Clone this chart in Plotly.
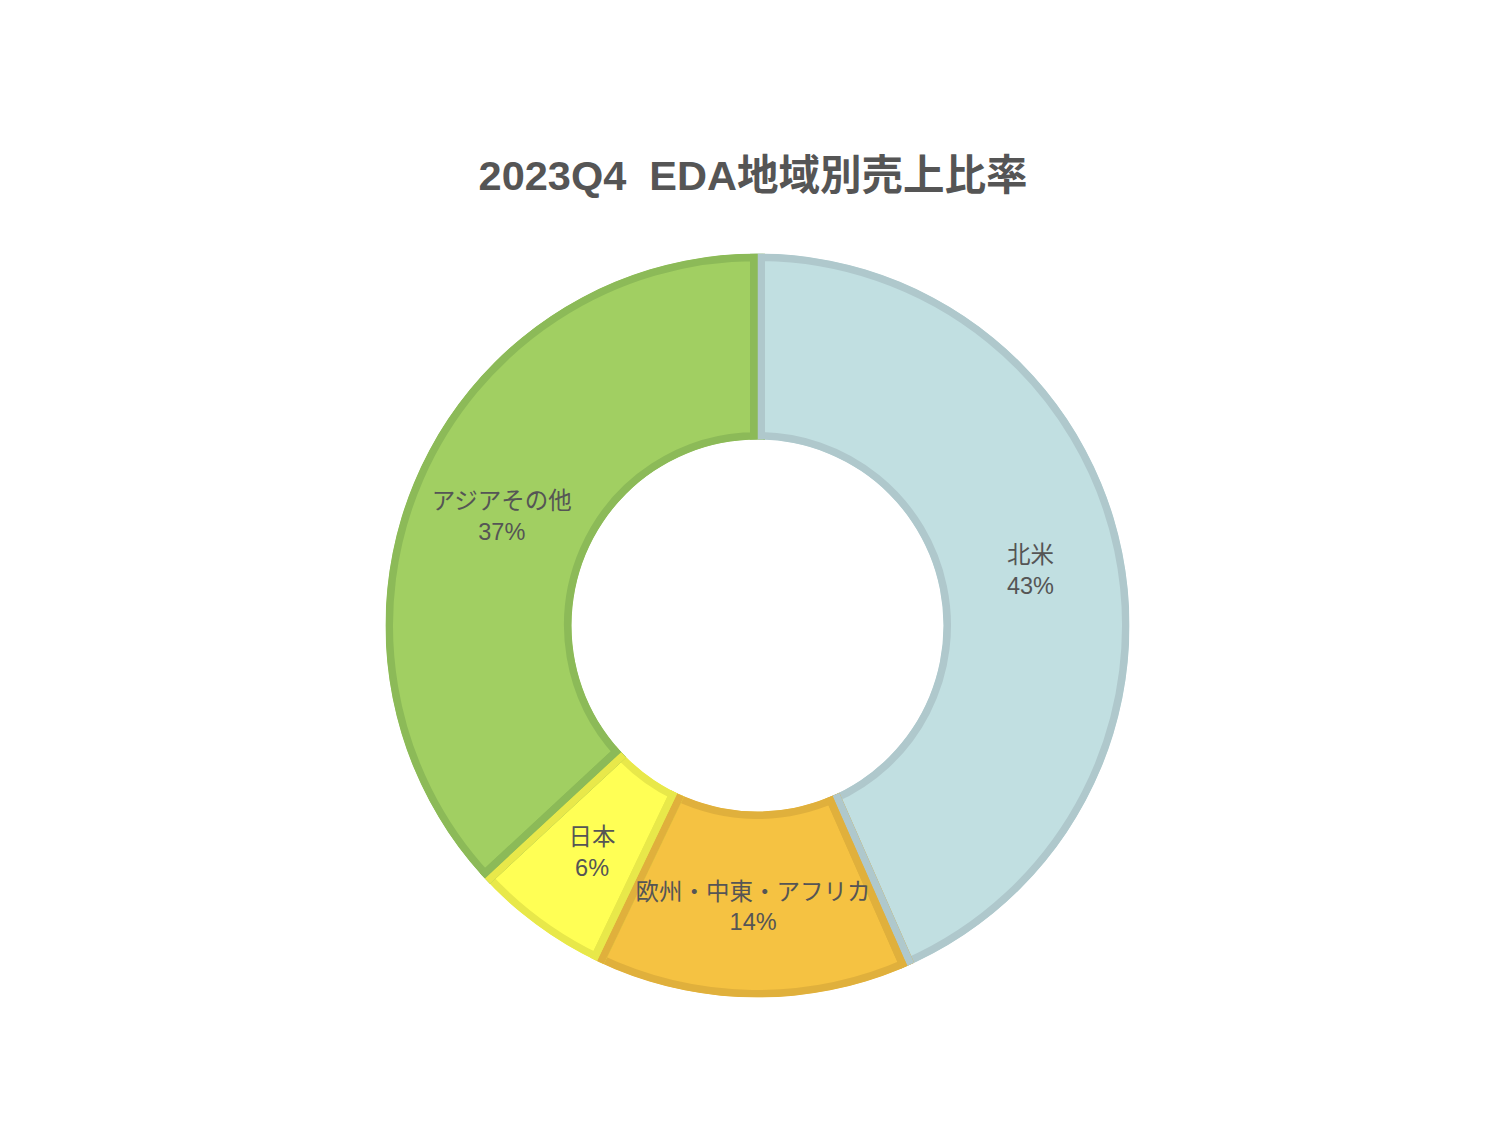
import math
import plotly.graph_objects as go

labels = ["北米", "欧州・中東・アフリカ", "日本", "アジアその他"]
values = [43.4, 13.7, 6.0, 36.9]
fill_colors = ["#c1dfe1", "#f5c242", "#ffff55", "#a1cf62"]
line_colors = ["#afc8cc", "#e0b03c", "#e8e84a", "#8cba58"]

W, H = 1508, 1126
CX, CY, R = 749.5, 617.5, 372      # donut centre / outer radius (px)
HOLE = 0.5
BORDER = 7.5                        # inset border width (px)
TEXT_DROP = 4.5                     # label baseline tweak (px)
FONT = "Liberation Sans, Noto Sans CJK JP, sans-serif"

total = sum(values)
widths = [v / total * 360 for v in values]
starts, centers = [], []
acc = 0
for w in widths:
    starts.append(acc)
    centers.append(acc + w / 2)
    acc += w
texts = [f"{l}<br>{round(v / total * 100)}%" for l, v in zip(labels, values)]

r_in_px = HOLE * R
def r_data(px):
    return (px - r_in_px) / (R - r_in_px)

fig = go.Figure()
# slices; stroke is clipped by the polar area so only the inner half shows on the arcs
fig.add_trace(go.Barpolar(
    r=[1] * len(values),
    base=0,
    theta=centers,
    width=widths,
    marker=dict(color=fill_colors, line=dict(color=line_colors, width=2 * BORDER)),
    hoverinfo="skip",
    showlegend=False,
))

# inset borders along the radial edges of every slice
d = BORDER / 2
n = len(values)
for i in range(n):
    a0 = starts[i]
    a1 = starts[i] + widths[i]
    for edge, sign in ((a0, 1), (a1, -1)):
        rs, ts = [], []
        for px in (r_in_px, R):
            rs.append(r_data(px))
            ts.append(edge + sign * math.degrees(math.asin(d / px)))
        fig.add_trace(go.Scatterpolar(
            r=rs, theta=ts, mode="lines",
            line=dict(color=line_colors[i], width=BORDER),
            hoverinfo="skip", showlegend=False,
        ))

# labels at the middle of the ring
mid_px = (r_in_px + R) / 2
lab_r, lab_t = [], []
for c in centers:
    a = math.radians(c)
    x = mid_px * math.sin(a)
    y = mid_px * math.cos(a) - TEXT_DROP
    lab_r.append(r_data(math.hypot(x, y)))
    lab_t.append(math.degrees(math.atan2(x, y)))

fig.add_trace(go.Scatterpolar(
    r=lab_r,
    theta=lab_t,
    mode="text",
    text=texts,
    textfont=dict(size=23.5, color="#555555", family=FONT),
    hoverinfo="skip",
    showlegend=False,
))

fig.update_layout(
    width=W, height=H,
    margin=dict(l=0, r=0, t=0, b=0),
    paper_bgcolor="white",
    plot_bgcolor="white",
    polar=dict(
        domain=dict(x=[(CX - R) / W, (CX + R) / W], y=[1 - (CY + R) / H, 1 - (CY - R) / H]),
        hole=HOLE,
        bgcolor="white",
        bargap=0,
        radialaxis=dict(range=[0, 1], visible=False),
        angularaxis=dict(rotation=90, direction="clockwise", visible=False),
    ),
    title=dict(
        text="<b>2023Q4  EDA地域別売上比率</b>",
        x=745 / W, xanchor="center",
        y=1 - 167 / H, yanchor="middle",
        font=dict(size=41.5, color="#555555", family=FONT),
    ),
)

fig.write_html("out.html")
